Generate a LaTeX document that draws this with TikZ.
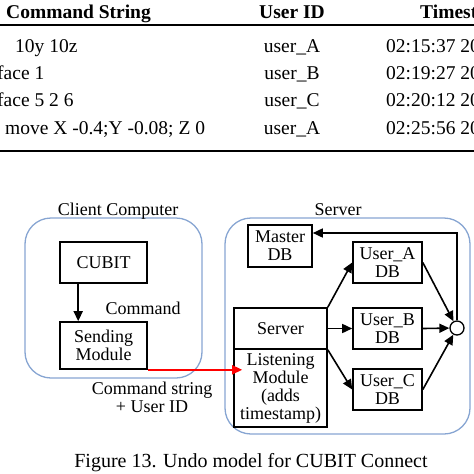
\documentclass[tikz,border=0pt]{standalone}
\usepackage{fontspec}
\setmainfont{Liberation Serif}
\usetikzlibrary{arrows.meta}
\definecolor{groupBlue}{RGB}{135,165,210}
\tikzstyle{cGroup} = [rectangle, rounded corners=26pt, draw=groupBlue, line width=1.3pt, inner sep=0pt]
\tikzstyle{cBox} = [rectangle, draw=black, line width=1.6pt, inner sep=0pt, align=center, font=\fontsize{18}{18}\selectfont]
\tikzstyle{cLabel} = [inner sep=0pt, align=center, font=\fontsize{18}{18}\selectfont]
\tikzstyle{cMerge} = [circle, draw=black, line width=1.3pt, minimum size=14pt, inner sep=0pt]
\tikzstyle{cArrow} = [line width=1.6pt, -{Triangle[length=10pt,width=9pt]}]
\tikzstyle{cRedArrow} = [cArrow, draw=red]
\tikzstyle{tHead} = [anchor=base west, inner sep=0pt, font=\fontsize{19.5}{20}\selectfont\bfseries]
\tikzstyle{tCell} = [anchor=base west, inner sep=0pt, font=\fontsize{19.5}{20}\selectfont]

\begin{document}
\begin{tikzpicture}[x=1pt, y=-1pt]
    \useasboundingbox (0,0) rectangle (474,474);
    \clip (0,0) rectangle (474,474);

    % table
    \node (hCmd) [tHead] at (6,18) {Command String};
    \node (hUser) [tHead, anchor=base] at (292,18) {User ID};
    \node (hTime) [tHead] at (420,18) {Timestamp};
    \draw [line width=1.3pt] (0,25) -- (474,25);
    \node (cmdA) [tCell] at (15,52) {10y 10z};
    \node (userA) [tCell, anchor=base] at (292,52) {user\_A};
    \node (timeA) [tCell] at (386,52) {02:15:37 20};
    \node (cmdB) [tCell] at (-3,79) {face 1};
    \node (userB) [tCell, anchor=base] at (292,79) {user\_B};
    \node (timeB) [tCell] at (386,79) {02:19:27 20};
    \node (cmdC) [tCell] at (-3,106) {face 5 2 6};
    \node (userC) [tCell, anchor=base] at (292,106) {user\_C};
    \node (timeC) [tCell] at (386,106) {02:20:12 20};
    \node (cmdD) [tCell] at (5,134) {move X -0.4;Y -0.08; Z 0};
    \node (userD) [tCell, anchor=base] at (292,134) {user\_A};
    \node (timeD) [tCell] at (386,134) {02:25:56 20};
    \draw [line width=1.6pt] (0,151) -- (474,151);

    % groups
    \node (client) [cGroup, minimum width=177pt, minimum height=160pt] at (113.5,298) {};
    \node (clientLbl) [cLabel, anchor=base] at (118,215) {Client Computer};
    \node (serverGrp) [cGroup, minimum width=245pt, minimum height=216pt] at (347.5,326) {};
    \node (serverLbl) [cLabel, anchor=base] at (338,215) {Server};

    % client side
    \node (cubit) [cBox, minimum width=87pt, minimum height=41pt] at (103.5,262.5) {CUBIT};
    \node (send) [cBox, minimum width=87pt, minimum height=47pt] at (103.5,345.5) {Sending\\Module};
    \node (cmdLbl) [cLabel, anchor=base] at (143,314) {Command};
    \node (strLbl) [cLabel] at (152,397) {Command string\\+ User ID};

    % server side
    \node (master) [cBox, minimum width=64pt, minimum height=42pt] at (280,246) {Master\\DB};
    \node (server) [cBox, minimum width=93pt, minimum height=41pt] at (280.5,328.5) {Server};
    \node (listen) [cBox, minimum width=93pt, minimum height=78pt] at (280.5,388) {Listening\\Module\\(adds\\timestamp)};
    \node (usera) [cBox, minimum width=69pt, minimum height=41pt] at (387.5,262.5) {User\_A\\DB};
    \node (userb) [cBox, minimum width=69pt, minimum height=41pt] at (387.5,328.5) {User\_B\\DB};
    \node (userc) [cBox, minimum width=69pt, minimum height=41pt] at (387.5,389.5) {User\_C\\DB};
    \node (merge) [cMerge] at (457,328) {};

    \node (caption) [inner sep=0pt, anchor=base, font=\fontsize{20}{20}\selectfont] at (251,467) {Figure 13. Undo model for CUBIT Connect};

    \draw [cArrow] ([xshift=19pt]cubit.south west) -- ([xshift=19pt]send.north west);
    \draw [cRedArrow] (send.south east) -- ([xshift=9pt]send.south east -| listen.west);
    \draw [cArrow] (server.north east) -- (usera.west);
    \draw [cArrow] (server.east) -- (userb.west);
    \draw [cArrow] (server.south east) -- (userc.west);
    \draw [cArrow] (usera.east) -- (merge);
    \draw [cArrow] (userb.east) -- (merge);
    \draw [cArrow] (userc.east) -- (merge);
    \draw [cArrow] (merge.north) |- ([yshift=13pt]master.east);
\end{tikzpicture}
\end{document}
